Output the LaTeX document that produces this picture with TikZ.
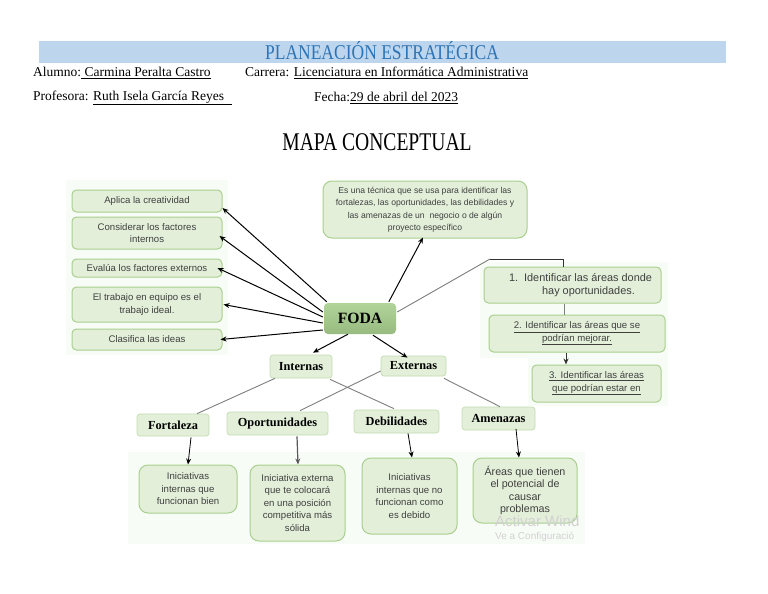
\documentclass[tikz,border=0pt]{standalone}
\usepackage{fontspec}
\setmainfont{Liberation Serif}
\newfontfamily\arialf{Liberation Sans}
\usetikzlibrary{arrows.meta}
\definecolor{bandc}{HTML}{BDD6EE}
\definecolor{titlec}{HTML}{2E74B5}
\definecolor{boxf}{HTML}{E3EFD9}
\definecolor{boxd}{HTML}{A8CF8E}
\definecolor{txtc}{HTML}{404040}
\definecolor{patchc}{HTML}{F8FCF7}
\definecolor{grayl}{HTML}{7F7F7F}
\tikzset{
 x=1pt,y=-1pt,
 desc/.style={draw=boxd,fill=boxf,line width=1pt,rounded corners=4.5pt,align=center,inner sep=0pt,text=txtc,font=\arialf\fontsize{9.6}{12.5}\selectfont},
 bigdesc/.style={desc,rounded corners=9pt},
 head/.style={draw=boxd!70,fill=boxf,line width=.7pt,rounded corners=3pt,inner sep=0pt,font=\bfseries\fontsize{12.3}{14}\selectfont},
 info/.style={anchor=west,inner sep=0pt,font=\fontsize{13.5}{15}\selectfont},
 conn/.style={line width=1pt,-{Stealth[length=6pt,width=5pt]}},
 link/.style={line width=.9pt,grayl},
 water/.style={inner sep=0pt,anchor=west,text=black!18},
}
\newcommand{\bx}[6][desc]{\node[#1,minimum width=#4,minimum height=#5] (#2) at #3 {#6};}
\newcommand{\tsz}{\fontsize{8.6}{11.5}\selectfont}
\newcommand{\usz}{\fontsize{10.9}{13}\selectfont}
\newcommand{\asz}{\fontsize{10.7}{13.5}\selectfont}
\begin{document}
\begin{tikzpicture}
\useasboundingbox (0,0) rectangle (768,594);
\fill[white] (0,0) rectangle (768,594);
% pale backgrounds
\fill[patchc] (66,180) rectangle (228,355);
\fill[patchc] (128,452) rectangle (585,544);
\fill[patchc] (480,262) rectangle (668,358);
\fill[patchc] (528,358) rectangle (668,406);
% header
\fill[bandc] (39,41) rectangle (726,63);
\node[inner sep=0pt,text=titlec,font=\fontsize{17.5}{20}\selectfont] (title) at (382,51) {\scalebox{1}[1.2]{PLANEACIÓN ESTRATÉGICA}};
\node[info] (alumno) at (33,73) {Alumno:\underline{ Carmina Peralta Castro}};
\node[info] (carrera) at (245,73) {Carrera: \underline{Licenciatura en Informática Administrativa}};
\node[info] (prof) at (33,98) {Profesora: \underline{Ruth Isela García Reyes\hspace*{8pt}}};
\node[info] (fecha) at (314,98) {Fecha:\underline{29 de abril del 2023}};
\node[inner sep=0pt,font=\fontsize{19.6}{22}\selectfont] (mapa) at (377,142) {\scalebox{1}[1.3]{MAPA CONCEPTUAL}};
% left boxes
\bx{aplica}{(147,201)}{150}{22}{Aplica la creatividad}
\bx{consid}{(147,233)}{150}{32}{Considerar los factores\\internos}
\bx{evalua}{(147,268)}{150}{18}{Evalúa los factores externos}
\bx{trabajo}{(147,304.5)}{150}{35}{El trabajo en equipo es el\\trabajo ideal.}
\bx{clasif}{(147,339.5)}{150}{21}{Clasifica las ideas}
% centre
\node[draw=none,top color=boxd!90!white,bottom color=boxd!90!black,rounded corners=4pt,minimum width=72,minimum height=31,inner sep=0pt,font=\bfseries\fontsize{15.7}{17}\selectfont] (foda) at (360,318.5) {FODA};
\bx[bigdesc]{tecnica}{(425,209.5)}{204}{57}{\tsz Es una técnica que se usa para identificar las\\\tsz fortalezas, las oportunidades, las debilidades y\\\tsz las amenazas de un\ \ negocio o de algún\\\tsz proyecto específico}
% right
\bx{uno}{(572.5,285)}{177}{36}{\usz\hspace*{16pt}1.\ \ Identificar las áreas donde\\\usz\hspace*{32pt}hay oportunidades.}
\bx{dos}{(577,333.5)}{176}{37}{\underline{2. Identificar las áreas que se}\\\underline{podrían mejorar.}}
\bx{tres}{(596.5,383.5)}{129}{37}{\underline{3. Identificar las áreas}\\\underline{que podrían estar en}}
% categories
\bx[head]{internas}{(301,366.5)}{62}{23}{Internas}
\bx[head]{externas}{(413.5,366)}{65}{20}{Externas}
\bx[head]{fortaleza}{(173,425)}{72}{22}{Fortaleza}
\bx[head]{oport}{(277.5,423.5)}{101}{23}{Oportunidades}
\bx[head]{debil}{(396.5,421.5)}{85}{23}{Debilidades}
\bx[head]{amen}{(498.5,418.5)}{73}{23}{Amenazas}
% bottom
\bx[bigdesc]{inifort}{(188,489)}{98}{48}{Iniciativas\\internas que\\funcionan bien}
\bx[bigdesc]{iniop}{(297.5,503)}{95}{76}{Iniciativa externa\\que te colocará\\en una posición\\competitiva más\\sólida}
\bx[bigdesc]{inideb}{(409.5,496)}{95}{76}{Iniciativas\\internas que no\\funcionan como\\es debido}
\bx[bigdesc]{areas}{(525,490.5)}{104}{65}{\asz Áreas que tienen\\\asz el potencial de\\\asz causar\\\asz problemas}
% arrows from FODA
\draw[conn] ([shift={(3,-1)}]foda.north west) -- ([shift={(0,7)}]aplica.east);
\draw[conn] ([shift={(-1,-6.5)}]foda.west) -- ([shift={(-3,3)}]consid.east);
\draw[conn] ([shift={(-1,-1.5)}]foda.west) -- ([shift={(-5,0)}]evalua.east);
\draw[conn] ([shift={(-1,4.5)}]foda.west) -- ([shift={(1,0)}]trabajo.east);
\draw[conn] ([shift={(-1,11.5)}]foda.west) -- ([shift={(-2,0)}]clasif.east);
\draw[conn] ([shift={(65,-1)}]foda.north west) -- ([shift={(-2,-1)}]tecnica.south);
\draw[conn] ([shift={(-12,0)}]foda.south) -- ([shift={(12,-2)}]internas.north);
\draw[conn] ([shift={(13,1)}]foda.south) -- ([shift={(-6,2)}]externas.north);
% route to the steps
\coordinate (corner1) at (490,259);
\coordinate (corner2) at (563,259);
\draw[link] ([shift={(1,-6.5)}]foda.east) -- (corner1);
\draw[line width=1pt,black!80] (corner1) -- (corner2) -- (corner2 |- uno.north);
\draw[line width=1pt,grayl] ([shift={(-8.5,0)}]uno.south) -- ([shift={(-13,0)}]dos.north);
\draw[conn,black!80] ([shift={(-11,0)}]dos.south) -- ([shift={(-30.5,0)}]tres.north);
% links
\draw[link] ([shift={(-26,0)}]internas.south) -- ([shift={(24,0)}]fortaleza.north);
\draw[link] ([shift={(0,5)}]externas.west) -- ([shift={(22.5,-1)}]oport.north);
\draw[link] ([shift={(29,1)}]internas.south) -- ([shift={(-2.5,-1)}]debil.north);
\draw[link] ([shift={(30.5,2)}]externas.south) -- ([shift={(1.5,0)}]amen.north);
% arrows to explanations
\draw[conn,line width=.8pt] ([shift={(18,1)}]fortaleza.south) -- ([shift={(0,0)}]inifort.north);
\draw[conn,grayl!70!black,line width=1.2pt] ([shift={(19.5,1)}]oport.south) -- ([shift={(0.5,0)}]iniop.north);
\draw[conn,line width=.8pt] ([shift={(11.5,0)}]debil.south) -- ([shift={(2.5,0)}]inideb.north);
\draw[conn,line width=.8pt] ([shift={(17.5,-1.5)}]amen.south) -- ([shift={(-6,0)}]areas.north);
% watermark
\begin{scope}
\clip (480,510) rectangle (585,546);
\node[water,font=\arialf\fontsize{15}{16}\selectfont] (act) at (495,521) {Activar Wind};
\node[water,font=\arialf\fontsize{10}{12}\selectfont] (conf) at (495,537) {Ve a Configuració};
\end{scope}
\end{tikzpicture}
\end{document}
